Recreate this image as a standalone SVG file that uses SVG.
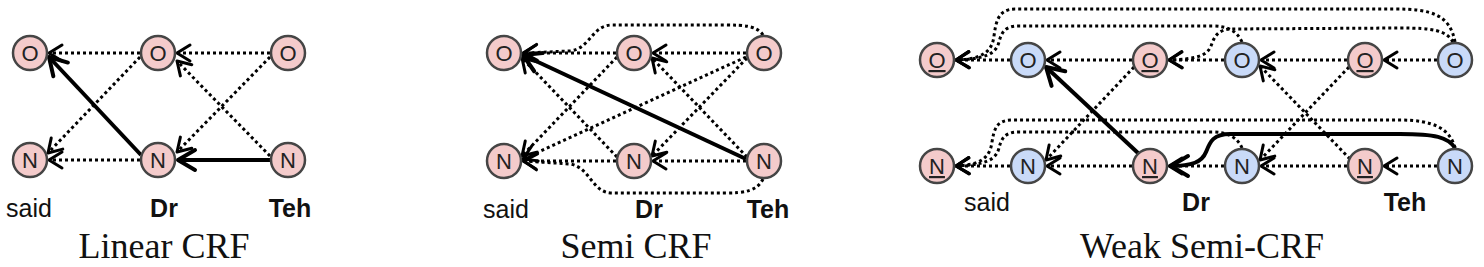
<svg xmlns="http://www.w3.org/2000/svg" width="1484" height="267" viewBox="0 0 1484 267">
<style>
.n circle{stroke:#454545;stroke-width:2.5}
.p{fill:#f4cbcb}
.b{fill:#c9daf8}
.n text{font-family:"Liberation Sans",Arial,sans-serif;font-size:22px;fill:#222;text-anchor:middle}
.u{text-decoration:underline}
.d{fill:none;stroke:#000;stroke-width:3;stroke-dasharray:3 3;marker-end:url(#ad)}
.s{fill:none;stroke:#000;stroke-width:4;marker-end:url(#as)}
.w{font-family:"Liberation Sans",Arial,sans-serif;font-size:25px;fill:#111;text-anchor:middle}
.wb{font-weight:bold}
.cap{font-family:"Liberation Serif","Times New Roman",serif;font-size:36px;fill:#111;text-anchor:middle}
</style>
<defs>
<marker id="ad" markerUnits="userSpaceOnUse" orient="auto" overflow="visible" refX="0" refY="0" markerWidth="1" markerHeight="1">
<path d="M-13,-8 L0,0 L-13,8" fill="none" stroke="#000" stroke-width="3" stroke-linejoin="round" stroke-linecap="round"/>
</marker>
<marker id="as" markerUnits="userSpaceOnUse" orient="auto" overflow="visible" refX="0" refY="0" markerWidth="1" markerHeight="1">
<path d="M-17,-10 L0,0 L-17,10" fill="none" stroke="#000" stroke-width="4" stroke-linejoin="round" stroke-linecap="round"/>
</marker>
</defs>
<rect width="1484" height="267" fill="#fff"/>

<g id="connectors">
<!-- Linear CRF -->
<path class="d" d="M140,53 L49,53"/>
<path class="d" d="M270,53 L177,53"/>
<path class="d" d="M140,57 L48,153"/>
<path class="d" d="M270,57 L177,152"/>
<path class="d" d="M270,156 L177,61"/>
<path class="d" d="M140,160 L49,160"/>
<path class="s" d="M141,155 L49,57"/>
<path class="s" d="M270,160 L178,160"/>
<!-- Semi CRF -->
<path class="d" d="M616,53 L523,53"/>
<path class="d" d="M746,53 L653,53"/>
<path class="d" d="M763,35 C757,26 745,25 725,25 L612,25 C592,25 590,49 570,51 L524,53"/>
<path class="d" d="M617,57 L522,156"/>
<path class="d" d="M746,57 L523,159"/>
<path class="d" d="M747,58 L652,156"/>
<path class="d" d="M617,157 L522,58"/>
<path class="d" d="M747,157 L652,58"/>
<path class="d" d="M616,161 L523,161"/>
<path class="d" d="M746,161 L653,161"/>
<path class="d" d="M763,179 C757,191 745,193 725,193 L612,193 C592,193 590,167 570,164 L524,161"/>
<path class="s" d="M746,159 L523,55"/>
<!-- Weak Semi-CRF -->
<path class="d" d="M1010,60 L956,60"/>
<path class="d" d="M1132,60 L1047,60"/>
<path class="d" d="M1224,60 L1169,60"/>
<path class="d" d="M1347,60 L1261,60"/>
<path class="d" d="M1437,60 L1384,60"/>
<path class="d" d="M1010,166 L956,166"/>
<path class="d" d="M1132,166 L1047,166"/>
<path class="d" d="M1224,166 L1169,166"/>
<path class="d" d="M1347,166 L1261,166"/>
<path class="d" d="M1437,166 L1384,166"/>
<path class="d" d="M1134,67 L1046,160"/>
<path class="s" d="M1138,153 L1046,67"/>
<path class="d" d="M1349,67 L1260,160"/>
<path class="d" d="M1350,159 L1260,66"/>
<path class="d" d="M1455,42 C1450,14 1430,9 1395,9 L1015,9 C998,9 996,22 994,36 C992,52 982,59 956,60"/>
<path class="d" d="M1242,42 C1237,31 1228,26 1212,26 L1018,26 C1004,26 1001,34 999,42 C996,54 985,59 956,60"/>
<path class="d" d="M1453,42 C1446,30 1432,28 1400,28 L1232,29 C1217,29 1214,38 1211,46 C1207,56 1196,59 1169,60"/>
<path class="d" d="M1455,148 C1450,128 1432,120 1400,120 L1012,120 C996,120 994,130 992,142 C990,158 980,165 956,166"/>
<path class="d" d="M1242,148 C1238,138 1228,132 1212,132 L1018,132 C1004,132 1001,140 999,148 C996,160 985,165 956,166"/>
<path class="s" d="M1455,148 C1448,137 1435,134 1400,134 L1230,134 C1213,134 1210,142 1206,152 C1202,162 1192,166 1171,166"/>
</g>

<!-- Linear CRF nodes -->
<g id="lin-o1" class="n"><circle class="p" cx="30" cy="53" r="17"/><text x="30" y="61">O</text></g>
<g id="lin-o2" class="n"><circle class="p" cx="158" cy="53" r="17"/><text x="158" y="61">O</text></g>
<g id="lin-o3" class="n"><circle class="p" cx="288" cy="53" r="17"/><text x="288" y="61">O</text></g>
<g id="lin-n1" class="n"><circle class="p" cx="30" cy="160" r="17"/><text x="30" y="168">N</text></g>
<g id="lin-n2" class="n"><circle class="p" cx="158" cy="160" r="17"/><text x="158" y="168">N</text></g>
<g id="lin-n3" class="n"><circle class="p" cx="288" cy="160" r="17"/><text x="288" y="168">N</text></g>

<!-- Semi CRF nodes -->
<g id="semi-o1" class="n"><circle class="p" cx="504" cy="53" r="17"/><text x="504" y="61">O</text></g>
<g id="semi-o2" class="n"><circle class="p" cx="634" cy="53" r="17"/><text x="634" y="61">O</text></g>
<g id="semi-o3" class="n"><circle class="p" cx="764" cy="53" r="17"/><text x="764" y="61">O</text></g>
<g id="semi-n1" class="n"><circle class="p" cx="504" cy="161" r="17"/><text x="504" y="169">N</text></g>
<g id="semi-n2" class="n"><circle class="p" cx="634" cy="161" r="17"/><text x="634" y="169">N</text></g>
<g id="semi-n3" class="n"><circle class="p" cx="764" cy="161" r="17"/><text x="764" y="169">N</text></g>

<!-- Weak Semi-CRF nodes -->
<g id="weak-o1" class="n"><circle class="p" cx="937" cy="60" r="17"/><text class="u" x="937" y="68">O</text></g>
<g id="weak-o2" class="n"><circle class="b" cx="1028" cy="60" r="17"/><text x="1028" y="68">O</text></g>
<g id="weak-o3" class="n"><circle class="p" cx="1150" cy="60" r="17"/><text class="u" x="1150" y="68">O</text></g>
<g id="weak-o4" class="n"><circle class="b" cx="1242" cy="60" r="17"/><text x="1242" y="68">O</text></g>
<g id="weak-o5" class="n"><circle class="p" cx="1365" cy="60" r="17"/><text class="u" x="1365" y="68">O</text></g>
<g id="weak-o6" class="n"><circle class="b" cx="1455" cy="60" r="17"/><text x="1455" y="68">O</text></g>
<g id="weak-n1" class="n"><circle class="p" cx="937" cy="166" r="17"/><text class="u" x="937" y="174">N</text></g>
<g id="weak-n2" class="n"><circle class="b" cx="1028" cy="166" r="17"/><text x="1028" y="174">N</text></g>
<g id="weak-n3" class="n"><circle class="p" cx="1150" cy="166" r="17"/><text class="u" x="1150" y="174">N</text></g>
<g id="weak-n4" class="n"><circle class="b" cx="1242" cy="166" r="17"/><text x="1242" y="174">N</text></g>
<g id="weak-n5" class="n"><circle class="p" cx="1365" cy="166" r="17"/><text class="u" x="1365" y="174">N</text></g>
<g id="weak-n6" class="n"><circle class="b" cx="1455" cy="166" r="17"/><text x="1455" y="174">N</text></g>

<g id="labels">
<text class="w" x="29" y="217">said</text>
<text class="w wb" x="164" y="217">Dr</text>
<text class="w wb" x="290" y="217">Teh</text>
<text class="w" x="506" y="218">said</text>
<text class="w wb" x="649" y="218">Dr</text>
<text class="w wb" x="768" y="218">Teh</text>
<text class="w" x="987" y="211">said</text>
<text class="w wb" x="1196" y="211">Dr</text>
<text class="w wb" x="1405" y="211">Teh</text>
<text class="cap" x="164" y="258">Linear CRF</text>
<text class="cap" x="636" y="258">Semi CRF</text>
<text class="cap" x="1202" y="258">Weak Semi-CRF</text>
</g>
</svg>
